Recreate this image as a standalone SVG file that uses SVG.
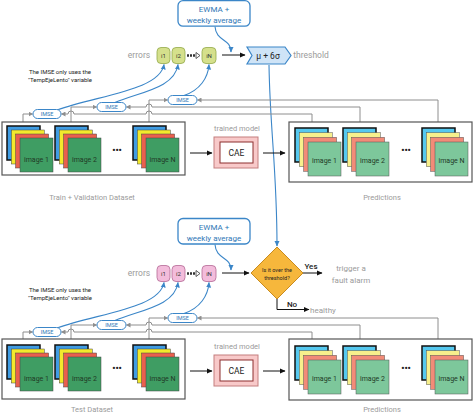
<svg xmlns="http://www.w3.org/2000/svg" width="474" height="416" viewBox="0 0 474 416">
<defs>
<style>
text{font-family:Roboto,"DejaVu Sans",sans-serif;text-anchor:middle}
.gt{fill:#9b9b9b;font-size:8px}
.lb{fill:#9b9b9b;font-size:7.5px}
.bt{fill:#2f77b6;font-size:8px}
.it{fill:#2f77b6;font-size:5.5px}
.dk{fill:#222}
.ew{fill:#fff;stroke:#3b86c8;stroke-width:1.3}
.pill{fill:#fff;stroke:#3b86c8;stroke-width:1}
.gl{fill:none;stroke:#8e8e8e;stroke-width:1}
.bl{fill:none;stroke:#3b86c8;stroke-width:1.1}
.kl{fill:none;stroke:#111;stroke-width:1}
.box{fill:#fff;stroke:#555;stroke-width:1.2}
.eg{fill:#d5e08c;stroke:#93a94a;stroke-width:0.8}
.ep{fill:#f3bcdb;stroke:#b46a95;stroke-width:0.8}
.et{fill:#333;font-size:6px}
.imt{fill:#1f3a26;font-size:7px}
.cae1{fill:#f8c9c9;stroke:#c47e7e;stroke-width:1}
.cae2{fill:#fff;stroke:#8c2f2f;stroke-width:1}
</style>
<marker id="ak" markerWidth="6" markerHeight="6" refX="5" refY="3" orient="auto" markerUnits="userSpaceOnUse"><path d="M0,0.5 L5.5,3 L0,5.5z" fill="#111"/></marker>
<marker id="ab" markerWidth="6" markerHeight="6" refX="5" refY="3" orient="auto" markerUnits="userSpaceOnUse"><path d="M0,0.5 L5.5,3 L0,5.5z" fill="#3b86c8"/></marker>
<marker id="ag" markerWidth="5" markerHeight="5" refX="4" refY="2.5" orient="auto" markerUnits="userSpaceOnUse"><path d="M0,0 L4.5,2.5 L0,5z" fill="#8e8e8e"/></marker>
<g id="sIn">
<rect x="0" y="0" width="33" height="34" fill="#3f9ce3" stroke="#111" stroke-width="1.5"/>
<rect x="4.3" y="4" width="33" height="34" fill="#f3ea2c" stroke="#444" stroke-width="0.5"/>
<rect x="8.6" y="8" width="33" height="34" fill="#e9604e" stroke="#444" stroke-width="0.5"/>
<rect x="13" y="12" width="33" height="34" fill="#3f9d63" stroke="#444" stroke-width="0.5"/>
</g>
<g id="sPr">
<rect x="0" y="0" width="33" height="34" fill="#55c8ef" stroke="#111" stroke-width="1.5"/>
<rect x="4.3" y="4.7" width="33" height="34" fill="#f7f08c" stroke="#555" stroke-width="0.5"/>
<rect x="8.6" y="9.3" width="33" height="34" fill="#f28b78" stroke="#555" stroke-width="0.5"/>
<rect x="13" y="14" width="33" height="34" fill="#7dc79b" stroke="#555" stroke-width="0.5"/>
</g>
</defs>
<rect width="474" height="416" fill="#fff"/>

<g id="connectors">
<path class="bl" d="M215,26.5 C216,42 231,38 231,52" marker-end="url(#ab)"/>
<path class="kl" d="M222,55 H245" marker-end="url(#ak)"/>
<path class="bl" d="M269,65 C270,130 277,170 277,246" marker-end="url(#ab)"/>
<path class="bl" d="M57,110 C100,95 160,90 164,64.5" marker-end="url(#ab)"/>
<path class="bl" d="M115,102.5 C140,92 175,88 178,64.5" marker-end="url(#ab)"/>
<path class="bl" d="M184,95.5 C200,90 208,78 209,64.5" marker-end="url(#ab)"/>
<path class="gl" d="M23,126 V114 H32.5" marker-end="url(#ag)"/>
<path class="gl" d="M71,126 V107 H96.5" marker-end="url(#ag)"/>
<path class="gl" d="M149,126 V100 H167.5" marker-end="url(#ag)"/>
<path class="gl" d="M312,128 V114 H152 A3,3 0 0 0 146,114 H74 A3,3 0 0 0 68,114 H61.5" marker-end="url(#ag)"/>
<path class="gl" d="M360,128 V107 H152 A3,3 0 0 0 146,107 H126.5" marker-end="url(#ag)"/>
<path class="gl" d="M438,128 V100 H197.5" marker-end="url(#ag)"/>
<path class="kl" d="M190,153 H212" marker-end="url(#ak)"/>
<path class="kl" d="M263,153 H285" marker-end="url(#ak)"/>
<path class="bl" d="M215,244.5 C216,260 231,256 231,270" marker-end="url(#ab)"/>
<path class="kl" d="M222,273 H249" marker-end="url(#ak)"/>
<path class="kl" d="M303,273 H322" marker-end="url(#ak)"/>
<path class="kl" d="M277,299 V309.5 H309" marker-end="url(#ak)"/>
<path class="bl" d="M57,328 C100,313 160,308 164,282.5" marker-end="url(#ab)"/>
<path class="bl" d="M115,320.5 C140,310 175,306 178,282.5" marker-end="url(#ab)"/>
<path class="bl" d="M184,313.5 C200,308 208,296 209,282.5" marker-end="url(#ab)"/>
<path class="gl" d="M23,344 V332 H32.5" marker-end="url(#ag)"/>
<path class="gl" d="M71,344 V325 H96.5" marker-end="url(#ag)"/>
<path class="gl" d="M149,344 V318 H167.5" marker-end="url(#ag)"/>
<path class="gl" d="M312,346 V332 H152 A3,3 0 0 0 146,332 H74 A3,3 0 0 0 68,332 H61.5" marker-end="url(#ag)"/>
<path class="gl" d="M360,346 V325 H152 A3,3 0 0 0 146,325 H126.5" marker-end="url(#ag)"/>
<path class="gl" d="M438,346 V318 H197.5" marker-end="url(#ag)"/>
<path class="kl" d="M190,371 H212" marker-end="url(#ak)"/>
<path class="kl" d="M263,371 H285" marker-end="url(#ak)"/>
</g>

<g id="ewma1"><rect class="ew" x="178" y="0.7" width="72" height="25.5" rx="5"/>
<text class="bt" x="214" y="12">EWMA +</text><text class="bt" x="214" y="23">weekly average</text></g>

<g id="errors1">
<text class="gt" x="139" y="58" style="font-size:8.5px">errors</text>
<rect class="eg" x="157" y="47.5" width="13" height="16" rx="4"/><text class="et" x="163.5" y="58">i1</text>
<rect class="eg" x="172" y="47.5" width="13" height="16" rx="4"/><text class="et" x="178.5" y="58">i2</text>
<path d="M187,55.5 H195" stroke="#333" stroke-width="2.4" stroke-dasharray="2,1" fill="none"/>
<path d="M196,52.5 L200,55.5 L196,58.5z" fill="#fff" stroke="#333" stroke-width="0.8"/>
<rect class="eg" x="202" y="47.5" width="14" height="16" rx="4"/><text class="et" x="209" y="58">iN</text>
</g>

<g id="threshold"><path d="M247,47 L285,47 L291,55.5 L285,64 L247,64 L252,55.5z" fill="#cfe4f7" stroke="#3b86c8" stroke-width="1.2"/>
<text class="dk" x="268" y="59" style="font-size:8.5px">μ + 6σ</text>
<text class="gt" x="311" y="58" style="font-size:8.5px">threshold</text></g>

<g id="note1"><text class="dk" x="60" y="74" style="font-size:6px">The IMSE only uses the</text>
<text class="dk" x="60" y="82" style="font-size:6px">"TempEjeLento" variable</text></g>

<g id="imse1a"><rect class="pill" x="33" y="109.5" width="28" height="9" rx="4.5"/><text class="it" x="47" y="116.3">IMSE</text></g>
<g id="imse1b"><rect class="pill" x="97" y="102.5" width="29" height="9" rx="4.5"/><text class="it" x="111.5" y="109.3">IMSE</text></g>
<g id="imse1c"><rect class="pill" x="168" y="95.5" width="29" height="9" rx="4.5"/><text class="it" x="182.5" y="102.3">IMSE</text></g>

<g id="trainset">
<rect class="box" x="2" y="122" width="183" height="53"/>
<use href="#sIn" x="7" y="126"/><text class="imt" x="36.5" y="162">image 1</text>
<use href="#sIn" x="55" y="126"/><text class="imt" x="84.5" y="162">image 2</text>
<use href="#sIn" x="133" y="126"/><text class="imt" x="162.5" y="162">image N</text>
<text class="dk" x="117" y="153" style="font-size:9px;font-weight:bold">•••</text>
<text class="lb" x="92" y="200">Train + Validation Dataset</text>
</g>

<g id="cae1"><text class="lb" x="237" y="131">trained model</text>
<rect class="cae1" x="214" y="137" width="44" height="31"/><rect class="cae2" x="220" y="142" width="33" height="21"/>
<text class="dk" x="236.5" y="156" style="font-size:8.5px">CAE</text></g>

<g id="pred1">
<rect class="box" x="289" y="122" width="183" height="60"/>
<use href="#sPr" x="295" y="128"/><text class="imt" x="324.5" y="163">image 1</text>
<use href="#sPr" x="343" y="128"/><text class="imt" x="372.5" y="163">image 2</text>
<use href="#sPr" x="422" y="128"/><text class="imt" x="451.5" y="163">image N</text>
<text class="dk" x="406" y="153" style="font-size:9px;font-weight:bold">•••</text>
<text class="lb" x="382" y="200">Predictions</text>
</g>

<g id="ewma2"><rect class="ew" x="178" y="218.5" width="72" height="25.5" rx="5"/>
<text class="bt" x="214" y="230">EWMA +</text><text class="bt" x="214" y="241">weekly average</text></g>

<g id="errors2">
<text class="gt" x="139" y="276" style="font-size:8.5px">errors</text>
<rect class="ep" x="157" y="265.5" width="13" height="16" rx="4"/><text class="et" x="163.5" y="276">i1</text>
<rect class="ep" x="172" y="265.5" width="13" height="16" rx="4"/><text class="et" x="178.5" y="276">i2</text>
<path d="M187,273.5 H195" stroke="#333" stroke-width="2.4" stroke-dasharray="2,1" fill="none"/>
<path d="M196,270.5 L200,273.5 L196,276.5z" fill="#fff" stroke="#333" stroke-width="0.8"/>
<rect class="ep" x="202" y="265.5" width="14" height="16" rx="4"/><text class="et" x="209" y="276">iN</text>
</g>

<g id="decision"><path d="M277,247 L303,273 L277,299 L251,273z" fill="#f6b73c" stroke="#c98b1e" stroke-width="1"/>
<text class="dk" x="277" y="272" style="font-size:5.5px">Is it over the</text>
<text class="dk" x="277" y="280" style="font-size:5.5px">threshold?</text></g>
<g id="yes"><text class="dk" x="311" y="269" style="font-size:8px;font-weight:500">Yes</text>
<text class="gt" x="351" y="271">trigger a</text><text class="gt" x="351" y="283">fault alarm</text></g>
<g id="no"><text class="dk" x="292" y="307" style="font-size:8px;font-weight:500">No</text>
<text class="gt" x="323" y="313">healthy</text></g>

<g id="note2"><text class="dk" x="60" y="292" style="font-size:6px">The IMSE only uses the</text>
<text class="dk" x="60" y="300" style="font-size:6px">"TempEjeLento" variable</text></g>

<g id="imse2a"><rect class="pill" x="33" y="327.5" width="28" height="9" rx="4.5"/><text class="it" x="47" y="334.3">IMSE</text></g>
<g id="imse2b"><rect class="pill" x="97" y="320.5" width="29" height="9" rx="4.5"/><text class="it" x="111.5" y="327.3">IMSE</text></g>
<g id="imse2c"><rect class="pill" x="168" y="313.5" width="29" height="9" rx="4.5"/><text class="it" x="182.5" y="320.3">IMSE</text></g>

<g id="testset">
<rect class="box" x="2" y="339" width="183" height="60"/>
<use href="#sIn" x="7" y="345"/><text class="imt" x="36.5" y="381">image 1</text>
<use href="#sIn" x="55" y="345"/><text class="imt" x="84.5" y="381">image 2</text>
<use href="#sIn" x="133" y="345"/><text class="imt" x="162.5" y="381">image N</text>
<text class="dk" x="117" y="371" style="font-size:9px;font-weight:bold">•••</text>
<text class="lb" x="92" y="412">Test Dataset</text>
</g>

<g id="cae2"><text class="lb" x="237" y="349">trained model</text>
<rect class="cae1" x="214" y="355" width="44" height="31"/><rect class="cae2" x="220" y="360" width="33" height="21"/>
<text class="dk" x="236.5" y="374" style="font-size:8.5px">CAE</text></g>

<g id="pred2">
<rect class="box" x="289" y="339" width="183" height="61"/>
<use href="#sPr" x="295" y="346"/><text class="imt" x="324.5" y="381">image 1</text>
<use href="#sPr" x="343" y="346"/><text class="imt" x="372.5" y="381">image 2</text>
<use href="#sPr" x="422" y="346"/><text class="imt" x="451.5" y="381">image N</text>
<text class="dk" x="406" y="371" style="font-size:9px;font-weight:bold">•••</text>
<text class="lb" x="382" y="412">Predictions</text>
</g>
</svg>
